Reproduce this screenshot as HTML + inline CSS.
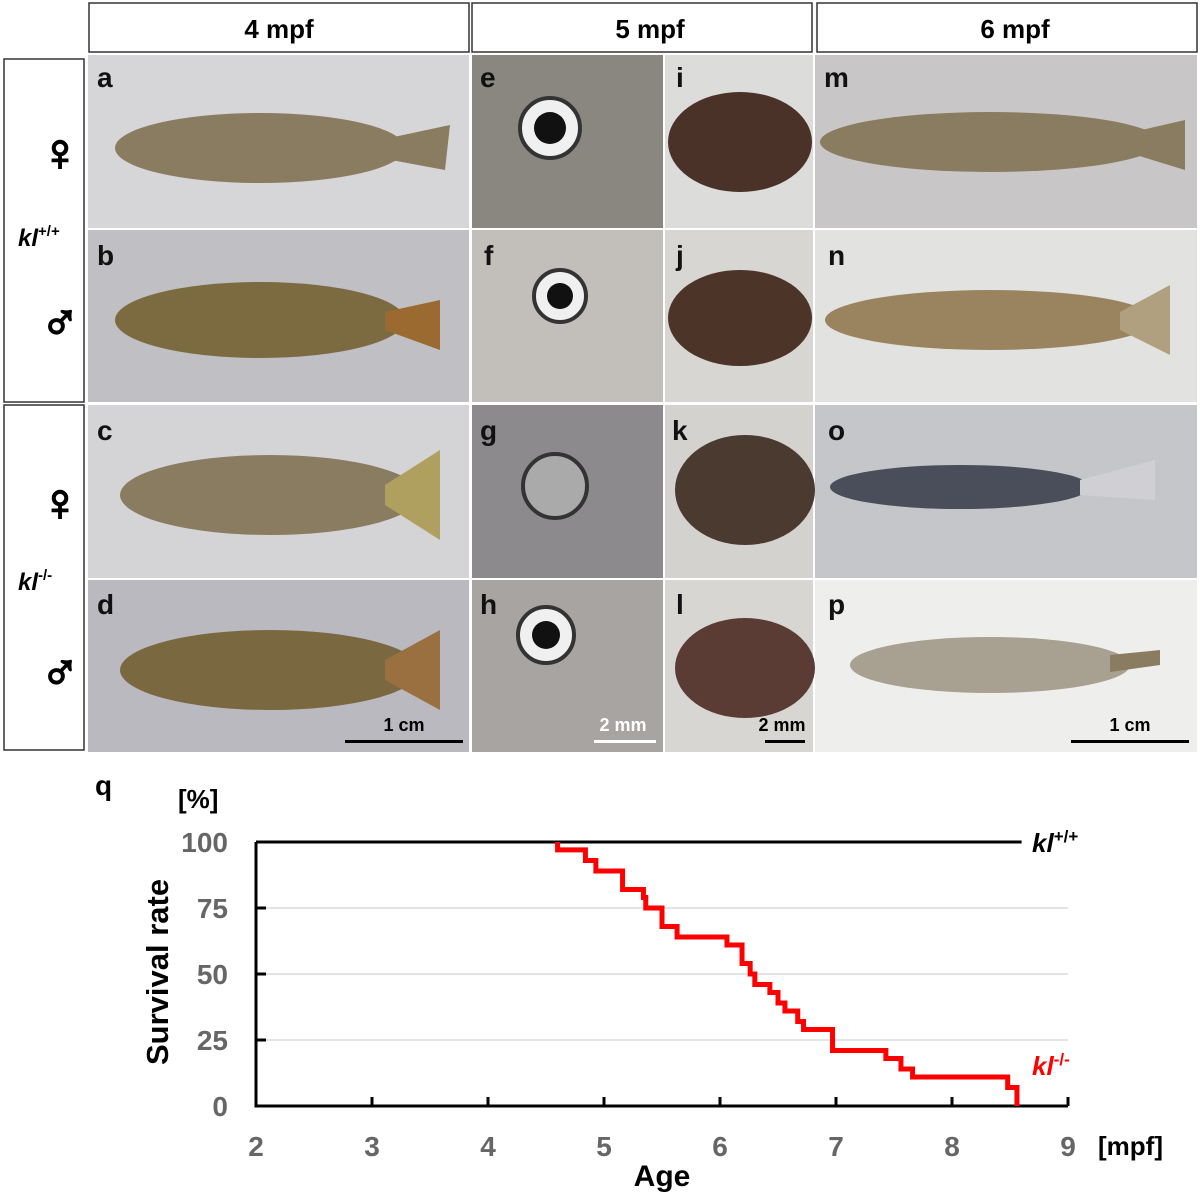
<!DOCTYPE html>
<html><head><meta charset="utf-8"><style>
html,body{margin:0;padding:0;background:#fff;}
svg{display:block;font-family:"Liberation Sans",sans-serif;}
</style></head><body>
<svg width="1200" height="1197" viewBox="0 0 1200 1197">
<g font-weight="bold" font-size="26" text-anchor="middle">
<rect x="89" y="3" width="380" height="49" fill="#fff" stroke="#333" stroke-width="1.5"/>
<text x="279" y="38">4 mpf</text>
<rect x="472" y="3" width="340" height="49" fill="#fff" stroke="#333" stroke-width="1.5"/>
<text x="650" y="38">5 mpf</text>
<rect x="817" y="3" width="380" height="49" fill="#fff" stroke="#333" stroke-width="1.5"/>
<text x="1015" y="38">6 mpf</text>
</g>
<g font-weight="bold">
<rect x="4" y="59" width="80" height="343" fill="#fff" stroke="#333" stroke-width="1.5"/>
<rect x="4" y="405" width="80" height="345" fill="#fff" stroke="#333" stroke-width="1.5"/>
<g font-size="52" text-anchor="middle" stroke="#000" stroke-width="2">
<text x="60" y="170">♀</text>
<text x="60" y="338">♂</text>
<text x="60" y="520">♀</text>
<text x="60" y="688">♂</text>
</g>
<text x="18" y="246" font-size="24" font-style="italic">kl<tspan font-size="15" dy="-10" font-style="normal">+/+</tspan></text>
<text x="18" y="590" font-size="24" font-style="italic">kl<tspan font-size="15" dy="-10" font-style="normal">-/-</tspan></text>
</g>
<g>
<rect x="88" y="55" width="381" height="173" fill="#d6d6d8"/>
<rect x="88" y="230" width="381" height="172" fill="#bfbfc4"/>
<rect x="88" y="405" width="381" height="173" fill="#d4d4d6"/>
<rect x="88" y="580" width="381" height="172" fill="#b9b9bf"/>
<rect x="472" y="55" width="191" height="173" fill="#8a8680"/>
<rect x="472" y="230" width="191" height="172" fill="#c2bfbb"/>
<rect x="472" y="405" width="191" height="173" fill="#8c8a8c"/>
<rect x="472" y="580" width="191" height="172" fill="#a8a4a2"/>
<rect x="665" y="55" width="148" height="173" fill="#dcdcda"/>
<rect x="665" y="230" width="148" height="172" fill="#d8d6d2"/>
<rect x="665" y="405" width="148" height="173" fill="#d4d2ce"/>
<rect x="665" y="580" width="148" height="172" fill="#d8d6d2"/>
<rect x="815" y="55" width="382" height="173" fill="#c8c6c6"/>
<rect x="815" y="230" width="382" height="172" fill="#e2e2e0"/>
<rect x="815" y="405" width="382" height="173" fill="#c4c6ca"/>
<rect x="815" y="580" width="382" height="172" fill="#eeeeec"/>
<g fill="#8a7c60">
<ellipse cx="260" cy="148" rx="145" ry="35"/><polygon points="380,140 450,125 445,170 380,158"/>
<ellipse cx="260" cy="320" rx="145" ry="38" fill="#7c6a40"/><polygon points="385,312 440,300 440,350 385,330" fill="#9a6a30"/>
<ellipse cx="270" cy="495" rx="150" ry="40"/><polygon points="385,485 440,450 440,540 385,505" fill="#b0a060"/>
<ellipse cx="270" cy="670" rx="150" ry="40" fill="#7a6840"/><polygon points="385,660 440,630 440,710 385,680" fill="#9a7040"/>
<ellipse cx="990" cy="142" rx="170" ry="30"/><polygon points="1120,135 1185,120 1185,170 1120,150"/>
<ellipse cx="990" cy="320" rx="165" ry="30" fill="#9a8460"/><polygon points="1120,312 1170,285 1170,355 1120,330" fill="#b0a080"/>
<ellipse cx="960" cy="487" rx="130" ry="22" fill="#4a4e5a"/><polygon points="1080,480 1155,460 1155,500 1080,495" fill="#d0d0d4"/>
<ellipse cx="990" cy="665" rx="140" ry="28" fill="#a8a090"/><polygon points="1110,655 1160,650 1160,665 1110,672"/>
<ellipse cx="740" cy="142" rx="72" ry="50" fill="#4a3228"/>
<ellipse cx="740" cy="318" rx="72" ry="48" fill="#4c3428"/>
<ellipse cx="745" cy="490" rx="70" ry="55" fill="#4a3a30"/>
<ellipse cx="745" cy="668" rx="70" ry="50" fill="#5a3c34"/>
</g>
<g fill="#f0f0f0" stroke="#333" stroke-width="4">
<circle cx="550" cy="128" r="30"/><circle cx="560" cy="296" r="26"/><circle cx="555" cy="486" r="32" fill="#aaa"/><circle cx="546" cy="635" r="28"/>
</g>
<g fill="#111"><circle cx="550" cy="128" r="16"/><circle cx="560" cy="296" r="13"/><circle cx="546" cy="635" r="14"/></g>
<g font-weight="bold" font-size="28" fill="#111">
<text x="97" y="87">a</text><text x="97" y="265">b</text><text x="97" y="440">c</text><text x="97" y="614">d</text>
<text x="480" y="87">e</text><text x="484" y="265">f</text><text x="480" y="440">g</text><text x="480" y="614">h</text>
<text x="676" y="87">i</text><text x="676" y="265">j</text><text x="672" y="440">k</text><text x="676" y="614">l</text>
<text x="824" y="87">m</text><text x="828" y="265">n</text><text x="828" y="440">o</text><text x="828" y="614">p</text>
</g>
<g font-weight="bold" font-size="18" text-anchor="middle">
<text x="404" y="731">1 cm</text><rect x="345" y="740" width="118" height="3" fill="#000"/>
<text x="623" y="731" fill="#fff">2 mm</text><rect x="594" y="740" width="62" height="3" fill="#fff"/>
<text x="782" y="731">2 mm</text><rect x="765" y="740" width="40" height="3" fill="#000"/>
<text x="1130" y="731">1 cm</text><rect x="1071" y="740" width="118" height="3" fill="#000"/>
</g>
</g>
<g id="chart">
<text x="95" y="795" font-size="28" font-weight="bold">q</text>
<text x="178" y="808" font-size="26" font-weight="bold">[%]</text>
<text transform="translate(168,972) rotate(-90)" text-anchor="middle" font-size="31" font-weight="bold">Survival rate</text>
<text x="662" y="1186" text-anchor="middle" font-size="30" font-weight="bold">Age</text>
<text x="1098" y="1155" font-size="26" font-weight="bold">[mpf]</text>
<g id="grid"></g><g id="axes"></g><g id="series"></g>
<text x="1032" y="852" font-size="26" font-weight="bold" font-style="italic">kl<tspan font-size="17" dy="-10" font-style="normal">+/+</tspan></text>
<text x="1032" y="1075" font-size="26" font-weight="bold" font-style="italic" fill="#f00">kl<tspan font-size="17" dy="-10" font-style="normal">-/-</tspan></text>
</g>
</svg>
<script>
const xTicks=[2,3,4,5,6,7,8,9];
const yTicks=[0,25,50,75,100];
const wtTimes=[2,8.6];
const wtValues=[100,100];
const koTimes=[4.60,4.84,4.93,5.16,5.34,5.36,5.50,5.63,6.06,6.19,6.26,6.30,6.43,6.50,6.56,6.67,6.72,6.97,7.43,7.56,7.66,8.48,8.56];
const koValues=[97,93,89,82,79,75,68,64,61,54,50,46,43,39,36,32,29,21,18,14,11,7,0];
const NS='http://www.w3.org/2000/svg';
const X=v=>256+(v-2)*116, Y=v=>1106-v*2.64;
function mk(t,a,p){const e=document.createElementNS(NS,t);for(const k in a)e.setAttribute(k,a[k]);p.appendChild(e);return e;}
const grid=document.getElementById('grid'),axes=document.getElementById('axes'),ser=document.getElementById('series');
yTicks.forEach(v=>{
 if(v>0&&v<100){const g=mk('line',{x1:256,x2:1068,y1:Y(v),y2:Y(v),stroke:'#e4e4e4','stroke-width':2},grid);
 
 }
 const t=mk('line',{x1:256,x2:266,y1:Y(v),y2:Y(v),stroke:'#000','stroke-width':3},axes);
 
 
 const l=mk('text',{x:228,y:Y(v)+10,'text-anchor':'end','font-size':28,'font-weight':'bold',fill:'#666'},axes);l.textContent=v;
 
 
});
xTicks.forEach(v=>{
 const t=mk('line',{x1:X(v),x2:X(v),y1:1106,y2:1097,stroke:'#000','stroke-width':3},axes);
 
 
 const l=mk('text',{x:X(v),y:1156,'text-anchor':'middle','font-size':28,'font-weight':'bold',fill:'#666'},axes);l.textContent=v;
 
 
});
const ax=mk('path',{d:`M256,${Y(100)} V1106 H1068`,fill:'none',stroke:'#000','stroke-width':3},axes);


const wt=mk('path',{d:`M${X(wtTimes[0])},${Y(wtValues[0])} H${X(wtTimes[1])}`,fill:'none',stroke:'#000','stroke-width':3},ser);


let d=`M${X(koTimes[0])},${Y(100)}`;
koTimes.forEach((t,i)=>{d+=` H${X(t)} V${Y(koValues[i])}`;});
const ko=mk('path',{d:d,fill:'none',stroke:'#f00','stroke-width':5},ser);


</script>
</body></html>
